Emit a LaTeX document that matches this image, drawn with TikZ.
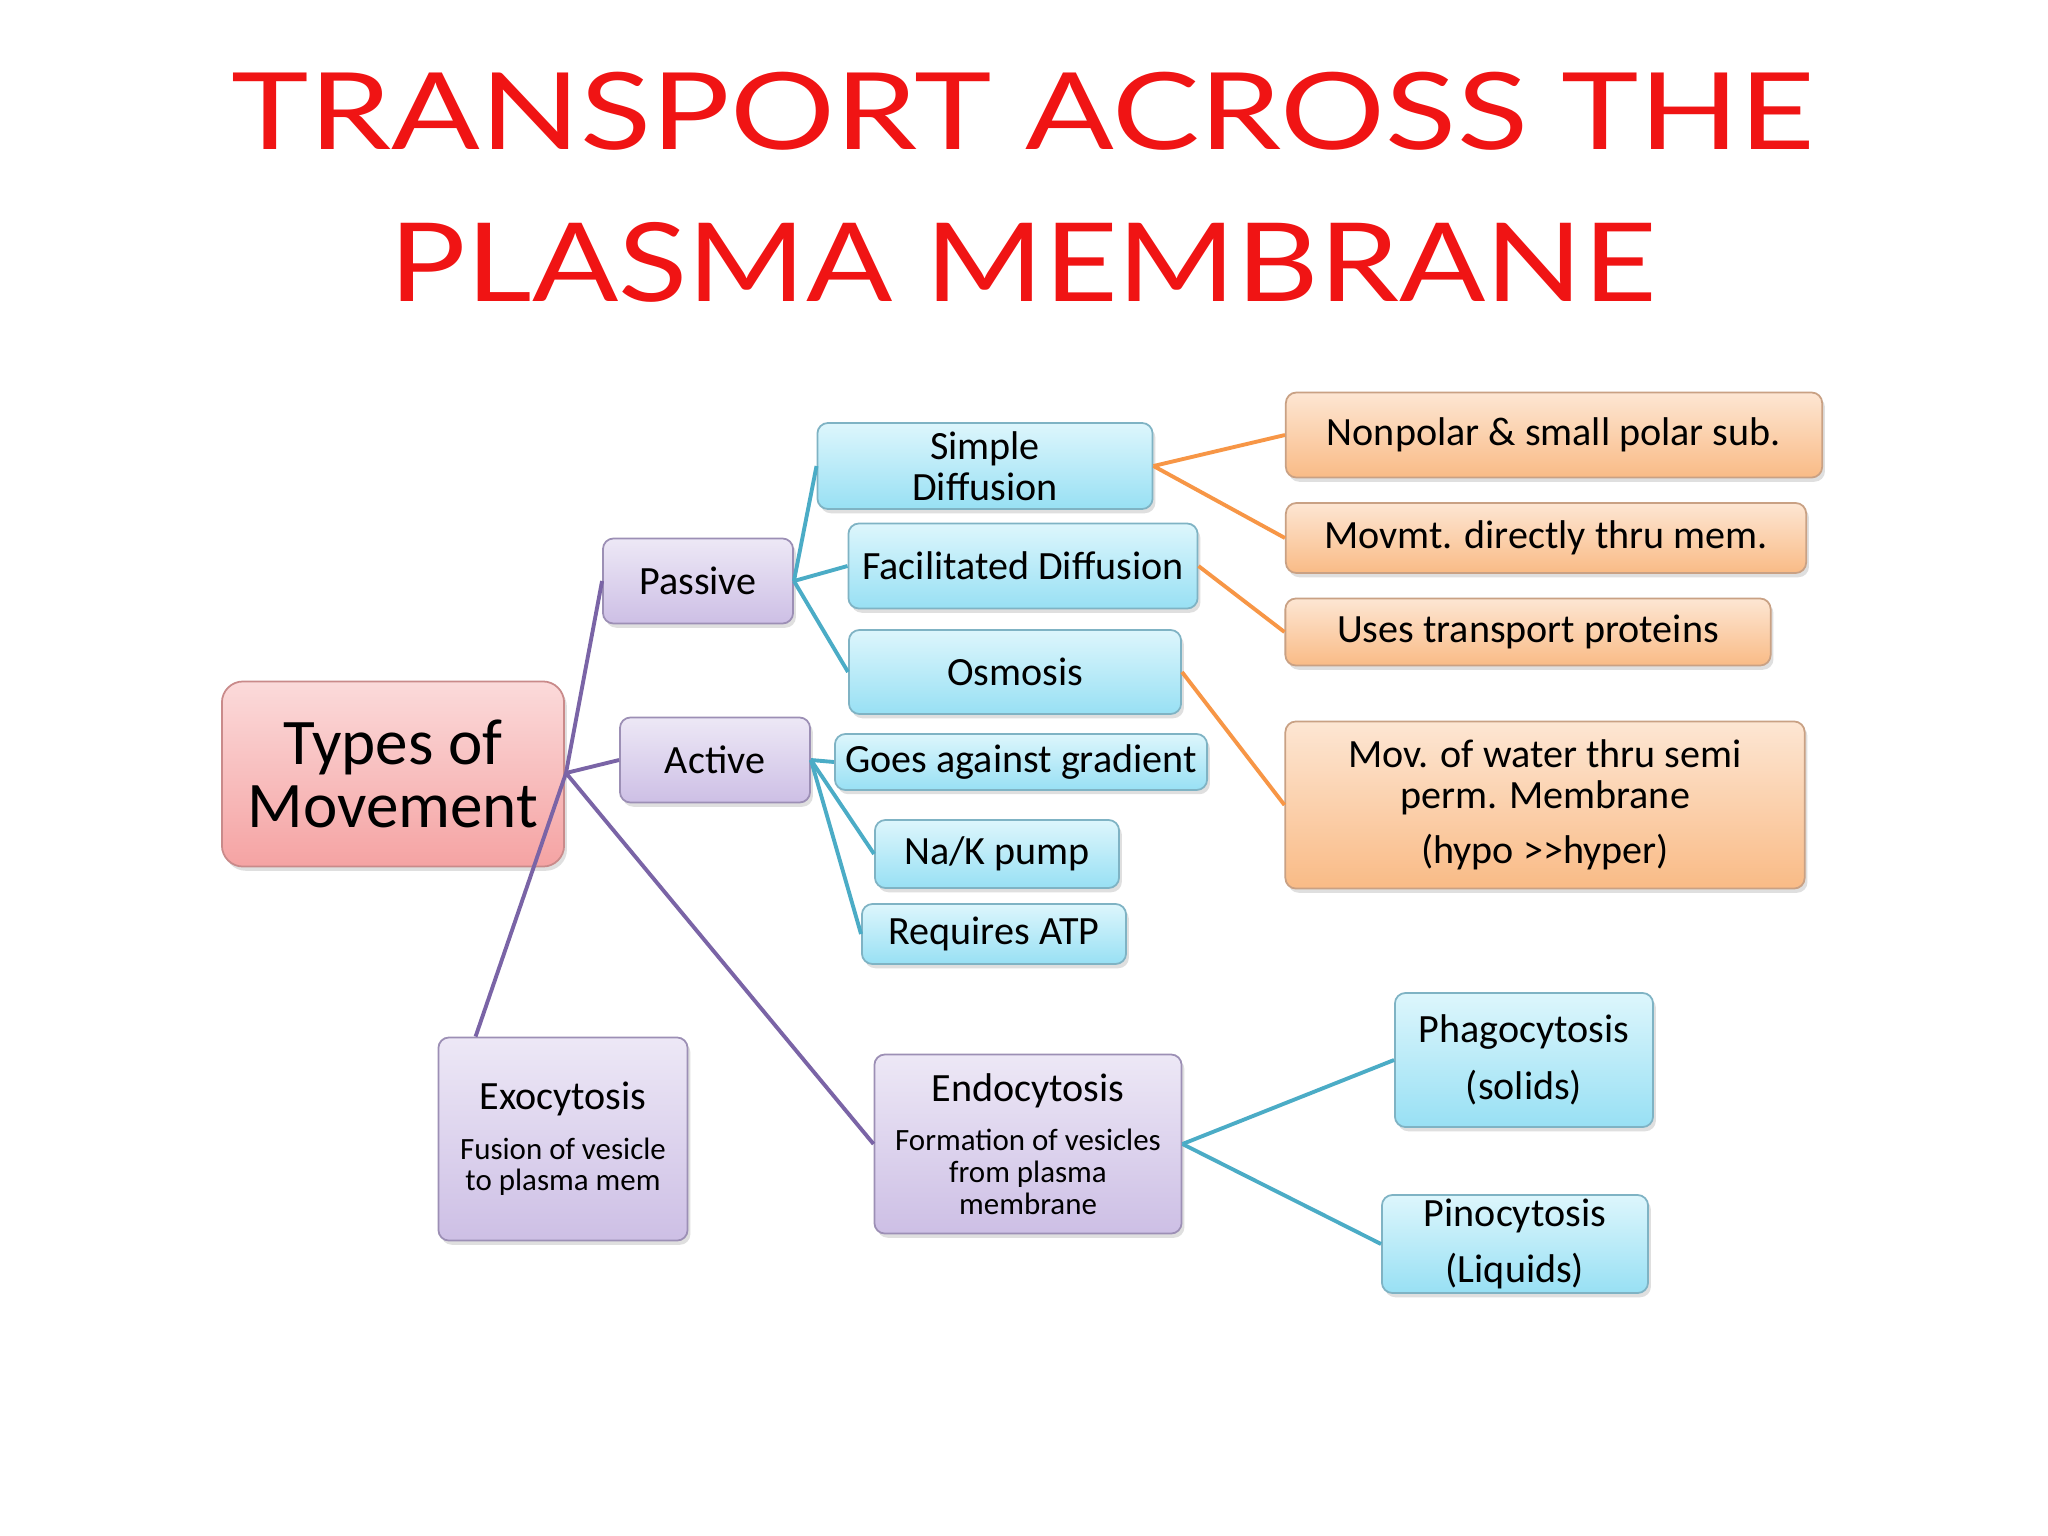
\documentclass[tikz,border=0pt]{standalone}
\usepackage{fontspec}
\setmainfont{Carlito}
\newfontfamily\titlefont{Lato}
\usetikzlibrary{shadows,calc}
\definecolor{titlered}{HTML}{F01414}
\definecolor{pinktop}{HTML}{FBDADA}
\definecolor{pinkbot}{HTML}{F5A3A3}
\definecolor{pinkline}{HTML}{C98A8A}
\definecolor{purtop}{HTML}{EDE8F6}
\definecolor{purbot}{HTML}{CDBFE5}
\definecolor{purline}{HTML}{9C8FB5}
\definecolor{bluetop}{HTML}{DDF6FC}
\definecolor{bluebot}{HTML}{98E0F4}
\definecolor{blueline}{HTML}{7FB3C4}
\definecolor{orgtop}{HTML}{FDE6D3}
\definecolor{orgbot}{HTML}{F9BB86}
\definecolor{orgline}{HTML}{C9A184}
\definecolor{conpur}{HTML}{7A64A6}
\definecolor{conblue}{HTML}{4BACC6}
\definecolor{conorg}{HTML}{F79646}
\tikzset{
  basebox/.style={rounded corners=3pt, line width=0.5pt, inner sep=0pt, align=center,
    drop shadow={shadow xshift=0.8pt, shadow yshift=-1.2pt, opacity=0.25}},
  pinkbox/.style={basebox, draw=pinkline, top color=pinktop, bottom color=pinkbot, rounded corners=6pt},
  purbox/.style={basebox, draw=purline, top color=purtop, bottom color=purbot},
  bluebox/.style={basebox, draw=blueline, top color=bluetop, bottom color=bluebot},
  orgbox/.style={basebox, draw=orgline, top color=orgtop, bottom color=orgbot},
  mainfont/.style={font=\fontsize{11.4}{11.6}\selectfont},
  titletext/.style={text=titlered, inner sep=0pt, font=\titlefont},
  conp/.style={draw=conpur, line width=1.1pt},
  conb/.style={draw=conblue, line width=1.1pt},
  cono/.style={draw=conorg, line width=1.1pt},
}
\begin{document}
\begin{tikzpicture}[x=0.01cm,y=-0.01cm]
\useasboundingbox (0,0) rectangle (2048,1536);
\fill[white] (0,0) rectangle (2048,1536);
% title
\node[titletext] (t1) at (1023,111) {\resizebox{450pt}{22pt}{TRANSPORT ACROSS THE}};
\node[titletext] (t2) at (1023,262) {\resizebox{360pt}{22.5pt}{PLASMA MEMBRANE}};
\coordinate (tp) at (566,773);
% nodes
\node[pinkbox, minimum width=3.42cm, minimum height=1.85cm, font=\fontsize{18.5}{18}\selectfont] (types) at (393,774) {Types of\\Movement};
\node[purbox, mainfont, minimum width=1.90cm, minimum height=0.85cm] (passive) at (698,581) {Passive};
\node[purbox, mainfont, minimum width=1.90cm, minimum height=0.85cm] (active) at (715,760) {Active};
\node[purbox, minimum width=2.49cm, minimum height=2.03cm, font=\fontsize{8.8}{9}\selectfont] (exo) at (563,1139)
  {{\fontsize{11.4}{12}\selectfont Exocytosis}\\[5pt]Fusion of vesicle\\to plasma mem};
\node[purbox, minimum width=3.07cm, minimum height=1.79cm, font=\fontsize{8.8}{9}\selectfont] (endo) at (1028,1144)
  {{\fontsize{11.4}{12}\selectfont Endocytosis}\\[5pt]Formation of vesicles\\from plasma\\membrane};
\node[bluebox, mainfont, minimum width=3.35cm, minimum height=0.86cm] (simple) at (985,466) {Simple\\Diffusion};
\node[bluebox, mainfont, minimum width=3.49cm, minimum height=0.85cm] (facil) at (1023,566) {Facilitated Diffusion};
\node[bluebox, mainfont, minimum width=3.32cm, minimum height=0.84cm] (osmo) at (1015,672) {Osmosis};
\node[bluebox, mainfont, minimum width=3.72cm, minimum height=0.56cm] (goes) at (1021,762) {Goes against gradient};
\node[bluebox, mainfont, minimum width=2.44cm, minimum height=0.68cm] (nak) at (997,854) {Na/K pump};
\node[bluebox, mainfont, minimum width=2.64cm, minimum height=0.60cm] (atp) at (994,934) {Requires ATP};
\node[orgbox, mainfont, minimum width=5.36cm, minimum height=0.85cm] (nonpolar) at (1554,435) {Nonpolar \& small polar sub.};
\node[orgbox, mainfont, minimum width=5.20cm, minimum height=0.70cm] (movmt) at (1546,538) {Movmt. directly thru mem.};
\node[orgbox, mainfont, minimum width=4.85cm, minimum height=0.67cm] (uses) at (1528,632) {Uses transport proteins};
\node[orgbox, mainfont, minimum width=5.19cm, minimum height=1.67cm] (water) at (1545,805) {Mov. of water thru semi\\perm. Membrane\\[4pt](hypo >\kern0pt>hyper)};
\node[bluebox, mainfont, minimum width=2.58cm, minimum height=1.34cm] (phago) at (1524,1060) {Phagocytosis\\[4.5pt](solids)};
\node[bluebox, mainfont, minimum width=2.66cm, minimum height=0.98cm] (pino) at (1515,1244) {Pinocytosis\\[4.5pt](Liquids)};
% connectors
\coordinate (exotop) at ([xshift=0.38cm]exo.north west);
\draw[conp] (tp) -- (passive.west);
\draw[conp] (tp) -- (active.west);
\draw[conp] (tp) -- (endo.west);
\draw[conp] (tp) -- (exotop);
\draw[conb] (passive.east) -- (simple.west);
\draw[conb] (passive.east) -- (facil.west);
\draw[conb] (passive.east) -- (osmo.west);
\draw[conb] (active.east) -- (goes.west);
\draw[conb] (active.east) -- (nak.west);
\draw[conb] (active.east) -- (atp.west);
\draw[cono] (simple.east) -- (nonpolar.west);
\draw[cono] (simple.east) -- (movmt.west);
\draw[cono] (facil.east) -- (uses.west);
\draw[cono] (osmo.east) -- (water.west);
\draw[conb] (endo.east) -- (phago.west);
\draw[conb] (endo.east) -- (pino.west);
\end{tikzpicture}
\end{document}
